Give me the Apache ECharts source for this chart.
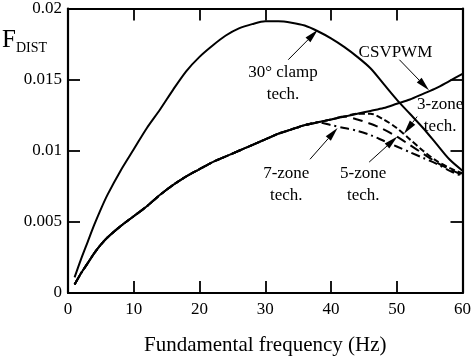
<!DOCTYPE html>
<html>
<head>
<meta charset="utf-8">
<script src="https://cdn.jsdelivr.net/npm/echarts@6/dist/echarts.min.js"></script>
<style>
html,body{margin:0;padding:0;background:#fff;}
#chart{width:474px;height:361px;}
</style>
</head>
<body>
<div id="chart"></div>
<script>
// Frequencies (Hz)
const freq = [1,2,3,4,5,6,8,10,12,14,16,18,20,22,24,26,28,30,32,34,36,38,40,42,44,46,48,50,52,54,56,58,60];
// 30 deg clamp technique
const clamp30 = [0.0011,0.0024,0.0036,0.0048,0.0059,0.0069,0.0086,0.0101,0.0116,0.0129,0.0143,0.0156,0.0166,0.0174,0.0181,0.0186,0.0189,0.0191,0.0191,0.0190,0.0188,0.0184,0.0179,0.0173,0.0166,0.0158,0.0147,0.0136,0.0126,0.0116,0.0105,0.0094,0.0086];
// CSVPWM
const csvpwm = [0.0006,0.0014,0.0021,0.0028,0.0034,0.0039,0.0047,0.0054,0.0061,0.0069,0.0076,0.0082,0.0087,0.0092,0.0096,0.0100,0.0104,0.0108,0.0112,0.0115,0.0118,0.0120,0.0122,0.0124,0.0126,0.0128,0.0130,0.0133,0.0136,0.0140,0.0144,0.0149,0.0154];
// 3-zone technique
const zone3 = [0.0006,0.0014,0.0021,0.0028,0.0034,0.0039,0.0047,0.0054,0.0061,0.0069,0.0076,0.0082,0.0087,0.0092,0.0096,0.0100,0.0104,0.0108,0.0112,0.0115,0.0118,0.0120,0.0122,0.0124,0.0126,0.0126,0.0122,0.0116,0.0108,0.0100,0.0093,0.0088,0.0084];
// 5-zone technique
const zone5 = [0.0006,0.0014,0.0021,0.0028,0.0034,0.0039,0.0047,0.0054,0.0061,0.0069,0.0076,0.0082,0.0087,0.0092,0.0096,0.0100,0.0104,0.0108,0.0112,0.0115,0.0118,0.0120,0.0122,0.0124,0.0122,0.0119,0.0115,0.0110,0.0104,0.0098,0.0092,0.0087,0.0083];
// 7-zone technique
const zone7 = [0.0006,0.0014,0.0021,0.0028,0.0034,0.0039,0.0047,0.0054,0.0061,0.0069,0.0076,0.0082,0.0087,0.0092,0.0096,0.0100,0.0104,0.0108,0.0112,0.0115,0.0118,0.0120,0.0118,0.0116,0.0114,0.0111,0.0107,0.0103,0.0099,0.0095,0.0091,0.0086,0.0082];

// tick values
const xTicks = [0,10,20,30,40,50,60];
const yTicks = [0,0.005,0.01,0.015,0.02];

// annotation text and arrows (data coordinates)
const labels = [
  {text:'30° clamp\ntech.', at:[32.7,0.0147]},
  {text:'CSVPWM', at:[49.8,0.0169]},
  {text:'3-zone\ntech.', at:[56.6,0.0125]},
  {text:'7-zone\ntech.', at:[33.2,0.0076]},
  {text:'5-zone\ntech.', at:[44.9,0.0076]}
];
const arrows = [
  [[33.5,0.0164],[38.0,0.0185]],
  [[50.4,0.0164],[54.9,0.01425]],
  [[53.1,0.0124],[51.1,0.0112]],
  [[36.8,0.0094],[41.0,0.0116]],
  [[45.8,0.0092],[50.1,0.0110]]
];

const pair = (ys) => freq.map((f,i)=>[f, ys[i]]);
const FONT = 'Liberation Serif';

function mkX(pos, showLabel){
  return {
    type:'value', min:0, max:60, interval:10, position:pos,
    axisLine:{show:true, onZero:false, lineStyle:{color:'#000', width:2.2}},
    axisTick:{show:true, inside:true, length:12, interval:0, lineStyle:{color:'#000', width:1.8}},
    axisLabel:{show:showLabel, color:'#000', fontFamily:FONT, fontSize:17, margin:8},
    splitLine:{show:false},
    name: showLabel ? 'Fundamental frequency (Hz)' : '',
    nameLocation:'middle', nameGap:42,
    nameTextStyle:{color:'#000', fontFamily:FONT, fontSize:21}
  };
}
function mkY(pos, showLabel){
  return {
    type:'value', min:0, max:0.02, interval:0.005, position:pos,
    axisLine:{show:true, onZero:false, lineStyle:{color:'#000', width:2.2}},
    axisTick:{show:true, inside:true, length:12, interval:0, lineStyle:{color:'#000', width:1.8}},
    axisLabel:{show:showLabel, color:'#000', fontFamily:FONT, fontSize:17, margin:6,
      formatter:(v)=> String(Number(v.toFixed(4)))},
    splitLine:{show:false}
  };
}

const lineBase = {type:'line', showSymbol:false, symbol:'none', smooth:0.3, xAxisIndex:0, yAxisIndex:0, silent:true, animation:false};

function buildOption(gfx){
  return {
    animation:false,
    backgroundColor:'#fff',
    grid:{left:68, right:8, top:6, bottom:56, containLabel:false},
    xAxis:[mkX('bottom', true), mkX('top', false)],
    yAxis:[mkY('left', true), mkY('right', false)],
    graphic: gfx,
    series:[
      Object.assign({}, lineBase, {name:'30° clamp tech.', data:pair(clamp30), lineStyle:{color:'#000', width:2}}),
      Object.assign({}, lineBase, {name:'CSVPWM', data:pair(csvpwm), lineStyle:{color:'#000', width:2},
        markPoint:{
          silent:true, animation:false,
          symbol:'circle', symbolSize:1,
          itemStyle:{color:'rgba(0,0,0,0)'},
          label:{show:true, position:'inside', color:'#000', fontFamily:FONT, fontSize:17, lineHeight:22, align:'center', verticalAlign:'middle'},
          data: labels.map(l=>({coord:l.at, value:0, label:{formatter:l.text}}))
        }
      }),
      Object.assign({}, lineBase, {name:'3-zone tech.', data:pair(zone3), lineStyle:{color:'#000', width:2, type:[6,3]}}),
      Object.assign({}, lineBase, {name:'5-zone tech.', data:pair(zone5), lineStyle:{color:'#000', width:2, type:[10,6]}}),
      Object.assign({}, lineBase, {name:'7-zone tech.', data:pair(zone7), lineStyle:{color:'#000', width:2, type:[9,4,2,4]}})
    ]
  };
}

const el = document.getElementById('chart');
// first pass: measure pixel positions through the chart's own scales
let chart = echarts.init(el, null, {renderer:'canvas'});
chart.setOption(buildOption([]));
const toPx = (p) => chart.convertToPixel({gridIndex:0}, p);

const gfx = [{
  type:'text', left:2, top:28,
  style:{
    text:'{a|F}{b|DIST}',
    rich:{
      a:{fontFamily:FONT, fontSize:25, fill:'#000', verticalAlign:'bottom'},
      b:{fontFamily:FONT, fontSize:14, fill:'#000', verticalAlign:'bottom', padding:[0,0,-2,0]}
    }
  }
}];
arrows.forEach(a=>{
  const p0 = toPx(a[0]);
  const p1 = toPx(a[1]);
  const dx = p1[0]-p0[0], dy = p1[1]-p0[1];
  const len = Math.hypot(dx,dy), ux = dx/len, uy = dy/len;
  const L = 14, W = 3.4;
  const bx = p1[0]-ux*L, by = p1[1]-uy*L;
  gfx.push({type:'line', silent:true, shape:{x1:p0[0], y1:p0[1], x2:bx, y2:by}, style:{stroke:'#000', lineWidth:1}});
  gfx.push({type:'polygon', silent:true, shape:{points:[[p1[0],p1[1]],[bx-uy*W, by+ux*W],[bx+uy*W, by-ux*W]]}, style:{fill:'#000'}});
});

// second pass: one single setOption with everything
chart.dispose();
chart = echarts.init(el, null, {renderer:'canvas'});
chart.setOption(buildOption(gfx));
</script>
</body>
</html>
